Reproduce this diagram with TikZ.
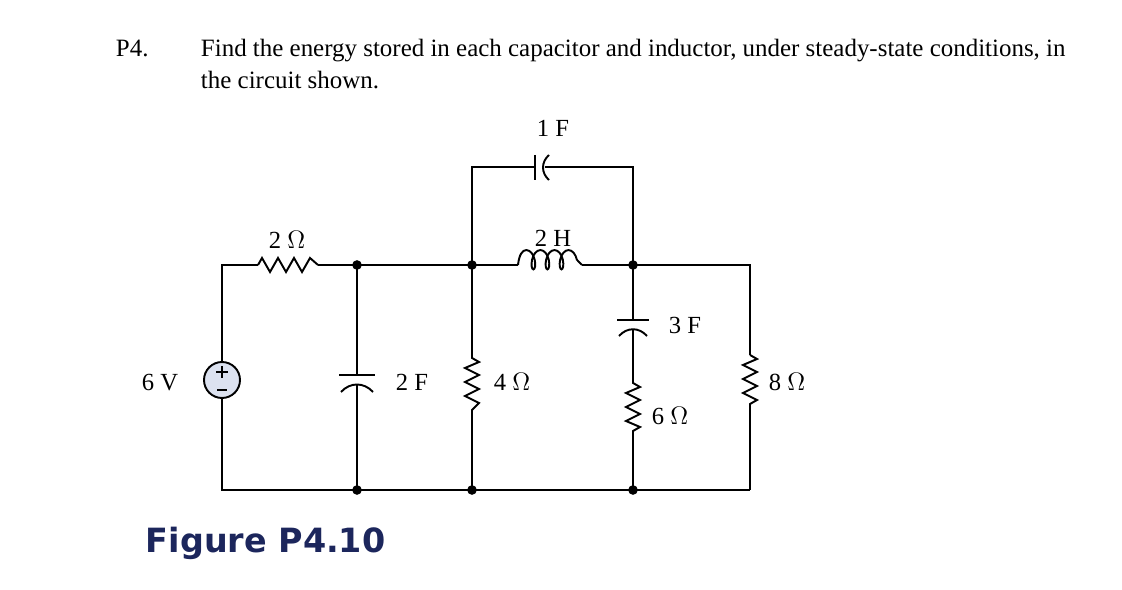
\documentclass[tikz,border=0pt]{standalone}
\usepackage{fontspec}
\setmainfont{Liberation Serif}
\newfontfamily\figfont{DejaVu Sans}
\usetikzlibrary{decorations.pathmorphing}
\definecolor{navy}{RGB}{28,38,92}
\definecolor{srcfill}{RGB}{220,226,240}
\begin{document}
\begin{tikzpicture}[x=0.02cm,y=-0.02cm,line width=1.1pt,
  lbl/.style={font=\fontsize{14}{16}\selectfont, inner sep=0pt},
  txt/.style={font=\fontsize{14.2}{16}\selectfont, inner sep=0pt, anchor=base west},
  dot/.style={fill, circle, inner sep=0pt, minimum size=5.5pt}]
\useasboundingbox (0,0) rectangle (1122,590);

% header text
\node[txt] (p) at (115,57) {P4.};
\node[txt] (q1) at (200,57) {Find the energy stored in each capacitor and inductor, under steady-state conditions, in};
\node[txt] (q2) at (200,89) {the circuit shown.};

% left loop wires
\draw (222,362) -- (222,265) -- (258,265);
\draw (258,265) -- (262,258) -- (270,272) -- (278,258) -- (286,272) -- (294,258) -- (302,272) -- (310,258) -- (318,265);
\draw (318,265) -- (515,265);
\draw (222,398) -- (222,490) -- (750,490);

% source
\draw[fill=srcfill] (222,380) circle (18);
\draw[line width=0.9pt] (216,372) -- (228,372) (222,366) -- (222,378);
\draw[line width=0.9pt] (217,390) -- (227,390);

% 2F capacitor
\draw (357,265) -- (357,375);
\draw (339,375) -- (375,375);
\draw (341,392) .. controls (350,382) and (364,382) .. (373,392);
\draw (357,385) -- (357,490);

% 4 ohm
\draw (472,265) -- (472,358) -- (479,362) -- (465,368) -- (479,375) -- (465,382) -- (479,389) -- (465,396) -- (479,403) -- (472,410) -- (472,490);

% upper 1F branch
\draw (472,265) -- (472,167) -- (535,167);
\draw (535,155) -- (535,180);
\draw (549,155) .. controls (541,162) and (541,173) .. (549,180);
\draw (545,167) -- (633,167) -- (633,265);

% inductor
\draw (515,265) -- (518,265);
\draw[decorate, decoration={coil, aspect=0.5, segment length=8pt, amplitude=5.5pt, raise=3pt}] (518,265) -- (582,265);
\draw (582,265) -- (585,265) -- (750,265) -- (750,355);

% 3F + 6 ohm
\draw (633,265) -- (633,320);
\draw (617,320) -- (649,320);
\draw (619,336) .. controls (627,327) and (639,327) .. (647,336);
\draw (633,330) -- (633,383) -- (640,387) -- (626,393) -- (640,400) -- (626,407) -- (640,414) -- (626,421) -- (640,427) -- (633,431) -- (633,490);

% 8 ohm
\draw (750,355) -- (757,359) -- (743,365) -- (757,372) -- (743,379) -- (757,386) -- (743,393) -- (757,400) -- (750,404) -- (750,490);

% junction dots
\node[dot] (d1) at (357,265) {};
\node[dot] (d2) at (472,265) {};
\node[dot] (d3) at (633,265) {};
\node[dot] (d4) at (357,490) {};
\node[dot] (d5) at (472,490) {};
\node[dot] (d6) at (633,490) {};

% labels
\node[lbl] (l6v) at (160,383) {6 V};
\node[lbl] (l2o) at (287,240) {2 $\Omega$};
\node[lbl] (l2f) at (412,382) {2 F};
\node[lbl] (l4o) at (512,382) {4 $\Omega$};
\node[lbl] (l1f) at (553,128) {1 F};
\node[lbl] (l2h) at (553,238) {2 H};
\node[lbl] (l3f) at (685,325) {3 F};
\node[lbl] (l6o) at (670,416) {6 $\Omega$};
\node[lbl] (l8o) at (787,382) {8 $\Omega$};

\node[font=\figfont\fontsize{19}{21}\selectfont\bfseries, text=navy, inner sep=0pt, anchor=west] (fig) at (145,543) {Figure P4.10};
\end{tikzpicture}
\end{document}
